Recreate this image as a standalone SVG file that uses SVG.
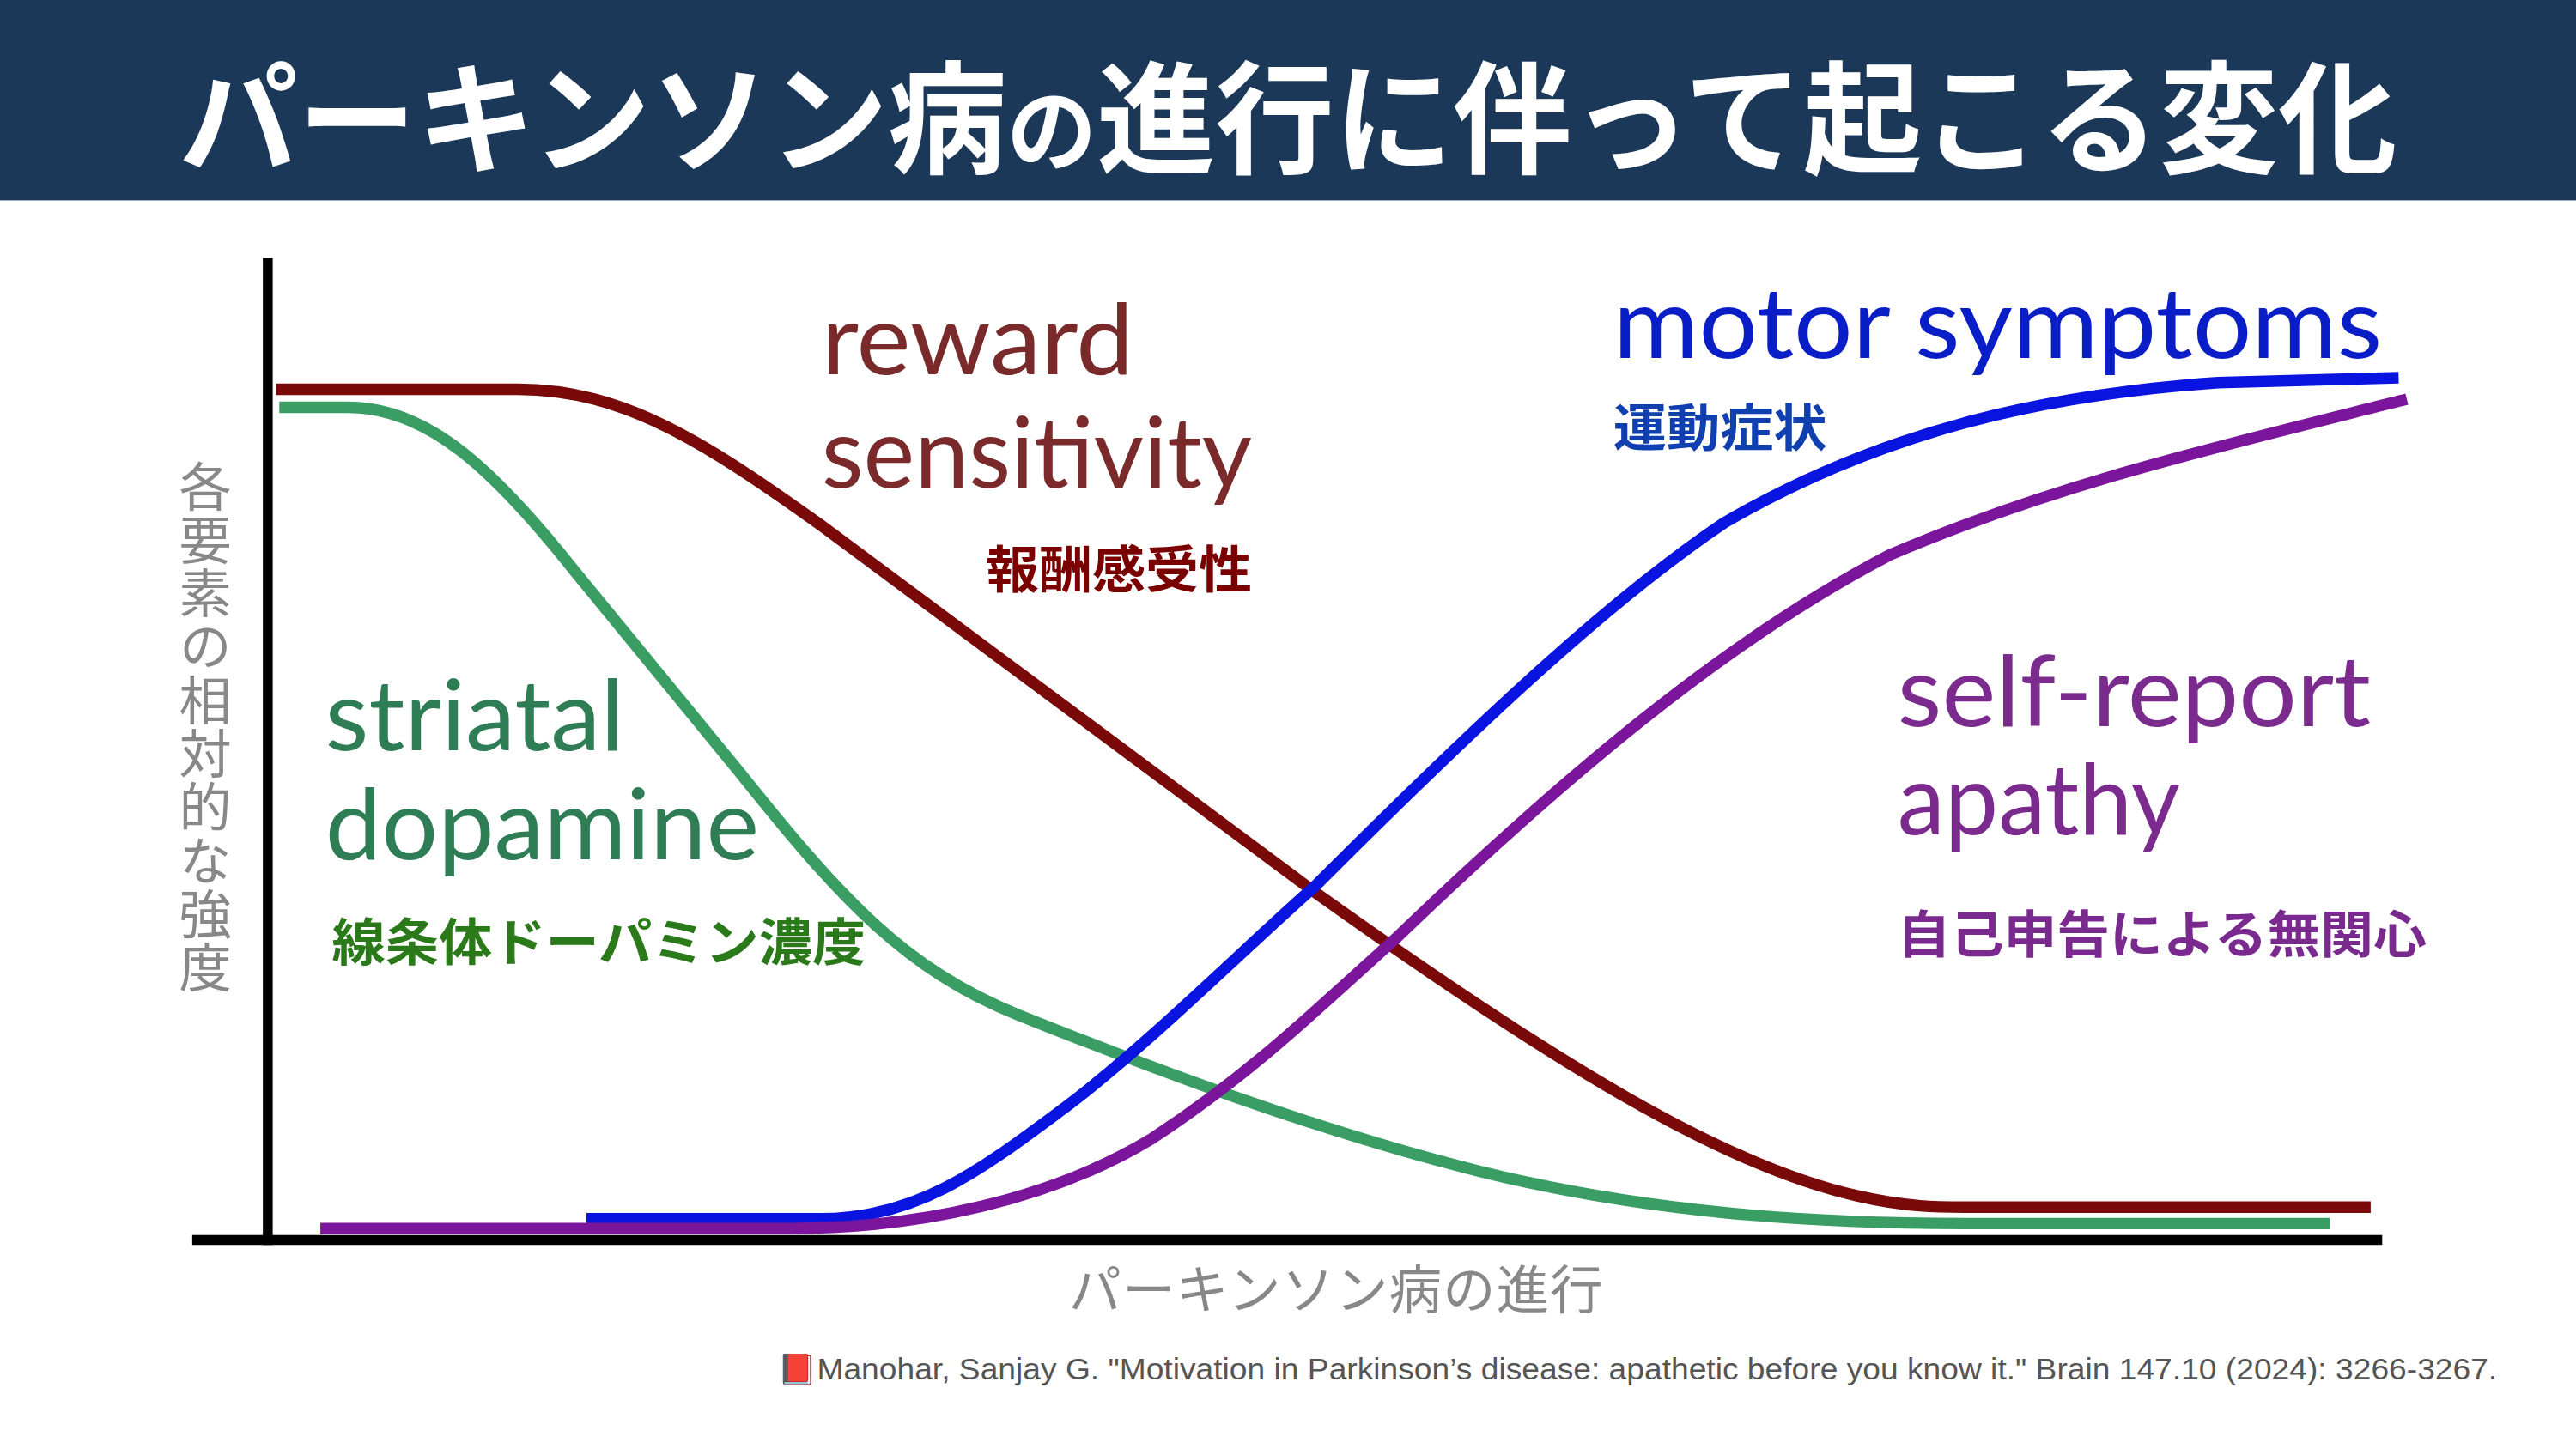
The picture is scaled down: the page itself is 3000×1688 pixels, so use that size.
<svg xmlns="http://www.w3.org/2000/svg" width="3000" height="1688" viewBox="0 0 3000 1688">
<style>
.cv{fill:none;stroke-width:7;stroke-linejoin:round;stroke-linecap:butt}
.en{font-family:Lato,"Open Sans",sans-serif;font-size:60px}
.jp{font-family:"Noto Sans CJK JP",sans-serif;font-weight:bold;font-size:31px}
.ax{font-family:"Noto Sans CJK JP",sans-serif;font-size:32px;fill:#888}
</style>
<rect width="3000" height="1688" fill="#fff"/>
<g transform="scale(1.9133)">
<g id="header">
<rect x="0" y="0" width="1568" height="122" fill="#1b3858"/>
<text x="784" y="100" text-anchor="middle" font-family="'Noto Sans CJK JP',sans-serif" font-weight="bold" font-size="74" fill="#fff" textLength="1350" lengthAdjust="spacingAndGlyphs">パーキンソン病<tspan font-size="56">の</tspan>進行に伴って起こる変化</text>
</g>
<g id="axes" stroke="#000" stroke-width="6">
<line x1="163" y1="157" x2="163" y2="758"/>
<line x1="117" y1="755" x2="1450" y2="755"/>
</g>
<g id="connectors">
<path id="red" class="cv" stroke="#7a0a0a" d="M168 237 L315 237 C 380 237 430 270 500 320 L 800 543 C 950 650 1050 710 1130 728 C 1160 735 1180 735 1200 735 L1443 735"/>
<path id="green" class="cv" stroke="#3a9e64" d="M170 248 L212 248 C 260 248 300 285 350 348 L 450 470 C 510 545 550 590 620 618 C 700 650 800 688 900 713 C 1000 738 1100 745 1200 745 L1418 745"/>
<path id="blue" class="cv" stroke="#0a14e0" d="M357 742 L500 742 C 560 742 600 710 650 673 C 700 635 760 575 800 540 C 900 440 980 365 1050 318 C 1150 260 1250 240 1350 233 L1460 230"/>
<path id="purple" class="cv" stroke="#7b169c" d="M195 748 L480 748 C 560 748 640 730 700 694 C 760 655 800 616 850 571 C 950 475 1050 390 1150 338 C 1250 295 1350 272 1465 243"/>
</g>
<g id="reward">
<text class="en" x="500" y="228" fill="#7a2a2a" textLength="190" lengthAdjust="spacingAndGlyphs">reward</text>
<text class="en" x="500" y="297" fill="#7a2a2a" textLength="262" lengthAdjust="spacingAndGlyphs">sensitivity</text>
<text class="jp" x="600" y="358" fill="#7a0000" textLength="162" lengthAdjust="spacingAndGlyphs">報酬感受性</text>
</g>
<g id="motor">
<text class="en" x="982" y="218" fill="#0a1ec8" textLength="468" lengthAdjust="spacingAndGlyphs">motor symptoms</text>
<text class="jp" x="982" y="272" fill="#1040b0" textLength="130" lengthAdjust="spacingAndGlyphs">運動症状</text>
</g>
<g id="dopamine">
<text class="en" x="198" y="457" fill="#2e7d55" textLength="182" lengthAdjust="spacingAndGlyphs">striatal</text>
<text class="en" x="198" y="523" fill="#2e7d55" textLength="264" lengthAdjust="spacingAndGlyphs">dopamine</text>
<text class="jp" x="202" y="585" fill="#2a7a1a" textLength="325" lengthAdjust="spacingAndGlyphs">線条体ドーパミン濃度</text>
</g>
<g id="apathy">
<text class="en" x="1155" y="442" fill="#7b2a8e" textLength="288" lengthAdjust="spacingAndGlyphs">self-report</text>
<text class="en" x="1155" y="508" fill="#7b2a8e" textLength="172" lengthAdjust="spacingAndGlyphs">apathy</text>
<text class="jp" x="1155" y="580" fill="#7a2a8e" textLength="322" lengthAdjust="spacingAndGlyphs">自己申告による無関心</text>
</g>
<g id="ylabel">
<text class="ax" x="125" y="280" style="writing-mode:vertical-rl" text-anchor="start" textLength="325" lengthAdjust="spacing">各要素の相対的な強度</text>
</g>
<g id="xlabel">
<text class="ax" x="813" y="797" text-anchor="middle" textLength="325" lengthAdjust="spacing">パーキンソン病の進行</text>
</g>
<g id="citation">
<text x="473" y="840" font-family="'Liberation Sans','Noto Sans CJK JP',sans-serif" font-size="18" fill="#555" textLength="1047" lengthAdjust="spacingAndGlyphs">📕Manohar, Sanjay G. "Motivation in Parkinson’s disease: apathetic before you know it." Brain 147.10 (2024): 3266-3267.</text>
</g>
</g>
</svg>
